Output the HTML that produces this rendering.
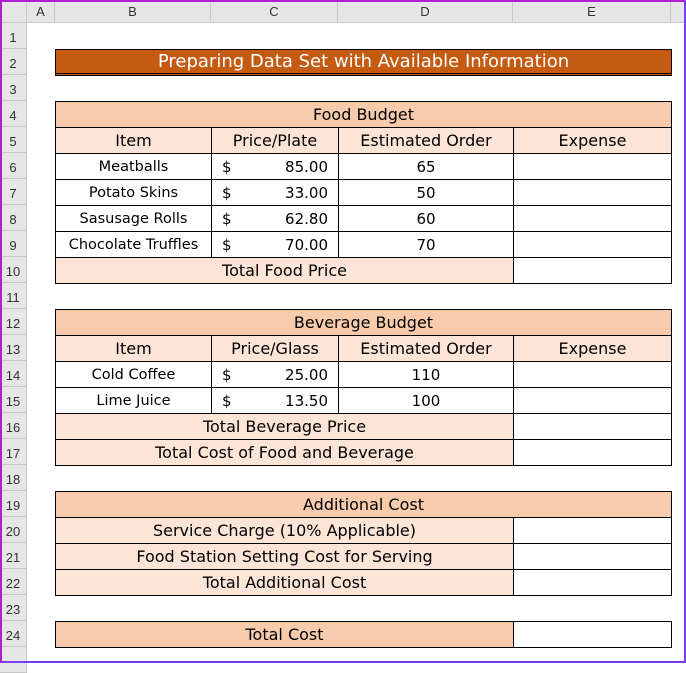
<!DOCTYPE html>
<html><head><meta charset="utf-8"><style>
*{margin:0;padding:0;box-sizing:border-box}
body{width:686px;height:663px;overflow:hidden;background:#fff;position:relative;font-family:"DejaVu Sans","Liberation Sans",sans-serif;}
.frame{position:absolute;left:0;top:0;width:686px;height:663px;border:2px solid #7a3cf0;border-left-color:#b020d0;border-top-color:#b020d0;z-index:10;pointer-events:none}
.c{position:absolute;border:1px solid #000;display:flex;align-items:center;justify-content:center;white-space:nowrap;color:#000}
.h{position:absolute;background:#e6e6e6;border-right:1px solid #c8c8c8;border-bottom:1px solid #c8c8c8;display:flex;align-items:center;justify-content:center;font-family:"Liberation Sans",sans-serif;font-size:13px;color:#333}
</style></head><body>
<div class="frame"></div>
<div id="g"></div>
<script>
var g=document.getElementById('g'),H='';
function rowTop(n){return 23+26*(n-1);}
var cols={A:[27,55],B:[55,211],C:[211,338],D:[338,513],E:[513,671],F:[671,686]};
H+='<div class="h" style="left:0;top:0;width:27px;height:23px"></div>';
for(var k in cols){var c=cols[k];H+='<div class="h" style="left:'+c[0]+'px;top:0;width:'+(c[1]-c[0])+'px;height:23px">'+(k=='F'?'':k)+'</div>';}
for(var n=1;n<=25;n++){H+='<div class="h" style="left:0;top:'+rowTop(n)+'px;width:27px;height:26px;padding-top:4px">'+(n<25?n:'')+'</div>';}
function cell(c1,c2,r,txt,bg,fs,extra){var l=cols[c1][0],rr=cols[c2][1];
H+='<div class="c" style="left:'+l+'px;top:'+rowTop(r)+'px;width:'+(rr-l+1)+'px;height:27px;background:'+bg+';font-size:'+fs+'px;'+(extra||'')+'">'+txt+'</div>';}
var D='#F8CBAD',L='#FCE4D6',W='#fff';
cell('B','E',2,'Preparing Data Set with Available Information','#C55A11',18,'color:#fff;border-bottom:3px double #000');
function hdr(r,t){cell('B','E',r,t,D,16);}
function heads(r,p){cell('B','B',r,'Item',L,16);cell('C','C',r,p,L,16);cell('D','D',r,'Estimated Order',L,16);cell('E','E',r,'Expense',L,16);}
function row(r,it,pr,q){cell('B','B',r,it,W,14.5);cell('C','C',r,'<span style="position:absolute;left:10px">$</span><span style="position:absolute;right:10px">'+pr+'</span>',W,15,'font-weight:500');cell('D','D',r,q,W,15,'font-weight:500');cell('E','E',r,'',W,15);}
function tot(r,t,bg){cell('B','D',r,t,bg||L,16);cell('E','E',r,'',W,16);}
hdr(4,'Food Budget');heads(5,'Price/Plate');
row(6,'Meatballs','85.00','65');row(7,'Potato Skins','33.00','50');row(8,'Sasusage Rolls','62.80','60');row(9,'Chocolate Truffles','70.00','70');
tot(10,'Total Food Price');
hdr(12,'Beverage Budget');heads(13,'Price/Glass');
row(14,'Cold Coffee','25.00','110');row(15,'Lime Juice','13.50','100');
tot(16,'Total Beverage Price');tot(17,'Total Cost of Food and Beverage');
hdr(19,'Additional Cost');
tot(20,'Service Charge (10% Applicable)');tot(21,'Food Station Setting Cost for Serving');tot(22,'Total Additional Cost');
tot(24,'Total Cost',D);
g.innerHTML=H;
</script>
</body></html>
